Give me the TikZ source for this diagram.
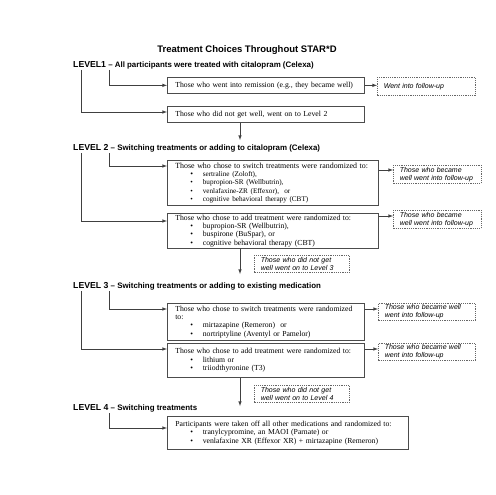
\documentclass[tikz,border=0pt]{standalone}
\usepackage{fontspec}
\usepackage{tikz}
\setmainfont{Liberation Serif}
\setsansfont{Liberation Sans}
\definecolor{boxgray}{gray}{0.3}
\definecolor{dashgray}{gray}{0.4}
\definecolor{linegray}{gray}{0.25}
\newcommand{\boxfont}{\fontsize{7.7}{8.3}\selectfont}
\newcommand{\smallfont}{\fontsize{7.2}{8.3}\selectfont}
\newcommand{\followfont}{\sffamily\itshape\fontsize{7}{8.2}\selectfont}
\newcommand{\levelfont}{\fontsize{8.7}{10}\selectfont}
\newcommand{\stditem}[1]{\\\hspace*{15pt}\makebox[12.5pt][l]{\textbullet}#1}

\begin{document}
\begin{tikzpicture}[x=1pt,y=-1pt]
	\useasboundingbox (0,0) rectangle (495,495);
	\tikzstyle{heading}=[anchor=west,inner sep=0pt,font=\sffamily\bfseries\fontsize{7.9}{9}\selectfont]
	\tikzstyle{choice}=[draw=boxgray,line width=0.7pt,anchor=north west,inner xsep=8pt,inner ysep=1pt,align=left,font=\boxfont]
	\tikzstyle{follow}=[draw=dashgray,dash pattern=on 1.2pt off 1pt,line width=0.6pt,anchor=north west,inner xsep=6.5pt,inner ysep=1pt,align=left,font=\followfont]
	\tikzstyle{link}=[-latex,line width=0.6pt,draw=linegray]
	% title and level headings
	\node[font=\sffamily\bfseries\fontsize{9.5}{11}\selectfont] (title) at (247,50) {Treatment Choices Throughout STAR*D};
	\node[heading] (lev1) at (73,65) {{\levelfont LEVEL1} \textendash{} All participants were treated with citalopram (Celexa)};
	\node[heading] (lev2) at (73,148) {{\levelfont LEVEL 2} \textendash{} Switching treatments or adding to citalopram (Celexa)};
	\node[heading] (lev3) at (73,286) {{\levelfont LEVEL 3} \textendash{} Switching treatments or adding to existing medication};
	\node[heading] (lev4) at (73,408) {{\levelfont LEVEL 4} \textendash{} Switching treatments};
	% level 1
	\node[choice,text width=181pt,minimum height=16pt] (box1) at (167,77) {Those who went into remission (e.g., they became well)};
	\node[choice,text width=181pt,minimum height=16pt] (box2) at (167,106) {Those who did not get well, went on to Level 2};
	\node[follow,text width=85pt,minimum height=18pt] (fu1) at (377,77) {Went into follow-up};
	% level 2
	\node[choice,font=\fontsize{7.9}{8.3}\selectfont,text width=195pt,minimum height=45pt] (box3) at (167,160) {Those who chose to switch treatments were randomized to:\stditem{\smallfont sertraline (Zoloft),}\stditem{\smallfont bupropion-SR (Wellbutrin),}\stditem{\smallfont venlafaxine-ZR (Effexor),\ \ or}\stditem{\smallfont cognitive behavioral therapy (CBT)}};
	\node[choice,text width=195pt,minimum height=35pt] (box4) at (167,213) {Those who chose to add treatment were randomized to:\stditem{bupropion-SR (Wellbutrin),}\stditem{buspirone (BuSpar), or}\stditem{cognitive behavioral therapy (CBT)}};
	\node[follow,text width=75pt,minimum height=18pt] (fu2) at (393,165) {Those who became\\well went into follow-up};
	\node[follow,text width=75pt,minimum height=18pt] (fu3) at (393,210) {Those who became\\well went into follow-up};
	\node[follow,text width=82pt,minimum height=17pt] (lv3) at (254,255) {Those who did not get\\well went on to Level 3};
	% level 3
	\node[choice,text width=181pt,minimum height=37pt] (box5) at (167,303) {Those who chose to switch treatments were randomized\\to:\stditem{mirtazapine (Remeron)\ \ or}\stditem{nortriptyline (Aventyl or Pamelor)}};
	\node[choice,text width=181pt,minimum height=34pt] (box6) at (167,343) {Those who chose to add treatment were randomized to:\stditem{lithium or}\stditem{triiodthyronine (T3)}};
	\node[follow,text width=84pt,minimum height=17pt] (fu4) at (378,303) {Those who became well\\went into follow-up};
	\node[follow,text width=84pt,minimum height=17pt] (fu5) at (378,343) {Those who became well\\went into follow-up};
	\node[follow,text width=82pt,minimum height=17pt] (lv4) at (254,385) {Those who did not get\\well went on to Level 4};
	% level 4
	\node[choice,text width=225pt,minimum height=33pt] (box7) at (167,416) {Participants were taken off all other medications and randomized to:\stditem{tranylcypromine, an MAOI (Parnate) or}\stditem{venlafaxine XR (Effexor XR) + mirtazapine (Remeron)}};
	% free ends of the connectors
	\coordinate (in1) at (109,70);
	\coordinate (out1) at (81,70);
	\coordinate (in2) at (109,153);
	\coordinate (out2) at (81,153);
	\coordinate (in3) at (109,291);
	\coordinate (out3) at (81,291);
	\coordinate (in4) at (109,413);
	\coordinate (down2) at (240,140);
	\coordinate (down3) at (240,274);
	\coordinate (down4) at (240,406);
	% connectors
	\draw[link] (in1) |- (box1.west);
	\draw[link] (out1) |- ([yshift=-6pt]box2.north west);
	\draw[link] (box1.east) -- (box1.east -| fu1.west);
	\draw[link] (down2 |- box2.south) -- (down2);
	\draw[link] (in2) |- ([yshift=-6pt]box3.north west);
	\draw[link] (out2) |- ([yshift=-8pt]box4.north west);
	\draw[link] ([yshift=-10pt]box3.north east) coordinate (t3) -- (t3 -| fu2.west);
	\draw[link] ([yshift=-3pt]box4.north east) coordinate (t4) -- (t4 -| fu3.west);
	\draw[link] (down3 |- box4.south) -- (down3);
	\draw[link] (in3) |- ([yshift=-6pt]box5.north west);
	\draw[link] (out3) |- ([yshift=-6pt]box6.north west);
	\draw[link] ([yshift=-6pt]box5.north east) coordinate (t5) -- (t5 -| fu4.west);
	\draw[link] ([yshift=-6pt]box6.north east) coordinate (t6) -- (t6 -| fu5.west);
	\draw[link] (down4 |- box6.south) -- (down4);
	\draw[link] (in4) |- ([yshift=-12pt]box7.north west);
\end{tikzpicture}
\end{document}
